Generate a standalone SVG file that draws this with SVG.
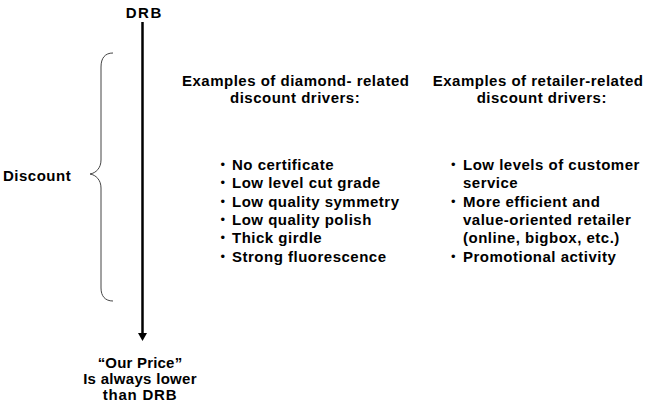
<svg xmlns="http://www.w3.org/2000/svg" width="646" height="405" viewBox="0 0 646 405">
<style>
text{font-family:"Liberation Sans",Arial,sans-serif;font-weight:bold;font-size:15px;letter-spacing:0.5px;fill:#000}
text.b{font-weight:normal;font-size:13px;letter-spacing:0}
.brace{fill:none;stroke:#444;stroke-width:1}
.axis{stroke:#000;stroke-width:2.5;fill:none}
</style>
<defs>
<marker id="ah" markerUnits="userSpaceOnUse" markerWidth="10" markerHeight="10" refX="0" refY="4.5" orient="auto">
<path d="M0,0 L8,4.5 L0,9 z" fill="#000"/>
</marker>
</defs>
<rect width="646" height="405" fill="#fff"/>
<g id="connectors">
<line class="axis" x1="142.5" y1="22" x2="142.5" y2="333" marker-end="url(#ah)"/>
</g>
<g id="drb"><text x="125.7" y="18" style="letter-spacing:1.6px">DRB</text></g>
<g id="discount">
<path class="brace" d="M113,53 C105,53 101,58 101,67 L101,160 C101,168 96,173 90,174 C96,175 101,180 101,188 L101,288 C101,296 105,301 113,301"/>
<text x="3" y="181">Discount</text>
</g>
<g id="our-price">
<text x="140" y="368" text-anchor="middle" style="letter-spacing:0.2px">“Our Price”</text>
<text x="140" y="384" text-anchor="middle" style="letter-spacing:0.3px">Is always lower</text>
<text x="140" y="399.5" text-anchor="middle" style="letter-spacing:0.8px">than DRB</text>
</g>
<g id="diamond-drivers">
<text x="182" y="85.5">Examples of diamond- related</text>
<text x="230" y="103">discount drivers:</text>
<text class="b" x="220.5" y="169">•</text><text x="232" y="170">No certificate</text>
<text class="b" x="220.5" y="187.3">•</text><text x="232" y="188.3">Low level cut grade</text>
<text class="b" x="220.5" y="205.6">•</text><text x="232" y="206.6">Low quality symmetry</text>
<text class="b" x="220.5" y="223.9">•</text><text x="232" y="224.9">Low quality polish</text>
<text class="b" x="220.5" y="242.2">•</text><text x="232" y="243.2">Thick girdle</text>
<text class="b" x="220.5" y="260.5">•</text><text x="232" y="261.5">Strong fluorescence</text>
</g>
<g id="retailer-drivers">
<text x="432.7" y="85.5">Examples of retailer-related</text>
<text x="476.7" y="103">discount drivers:</text>
<text class="b" x="451" y="169">•</text><text x="463" y="170">Low levels of customer</text>
<text x="463" y="188.3">service</text>
<text class="b" x="451" y="205.6">•</text><text x="463" y="206.6">More efficient and</text>
<text x="463" y="224.9">value-oriented retailer</text>
<text x="463" y="243.2">(online, bigbox, etc.)</text>
<text class="b" x="451" y="260.5">•</text><text x="463" y="261.5">Promotional activity</text>
</g>
</svg>
